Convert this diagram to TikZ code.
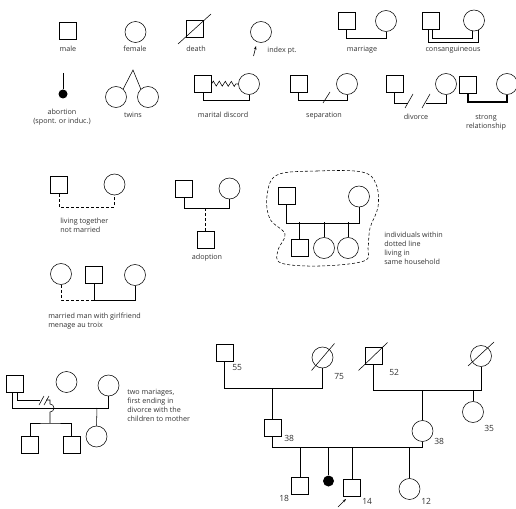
\documentclass[tikz,border=0pt]{standalone}
\usepackage{fontspec}
\setsansfont{Open Sans}
\usetikzlibrary{decorations.pathmorphing,arrows.meta}
\tikzset{
  male/.style={draw, minimum size=17pt, inner sep=0pt},
  female/.style={draw, circle, minimum size=21pt, inner sep=0pt},
  fetus/.style={fill, circle, minimum size=9pt, inner sep=0pt},
  lbl/.style={font=\sffamily\fontsize{7.2}{9}\selectfont, inner sep=0pt, align=center, text=black!80},
  txt/.style={font=\sffamily\fontsize{7.2}{9}\selectfont, inner sep=0pt, align=left, anchor=north west, text=black!80},
  age/.style={font=\sffamily\fontsize{8.5}{9}\selectfont, inner sep=0pt, anchor=west, text=black!80},
  pointer/.style={-{Stealth[length=3.5pt,width=2.5pt]}, line width=0.6pt}
}
\begin{document}
\begin{tikzpicture}[x=1pt, y=-1pt, line width=0.55pt]
\useasboundingbox (0,0) rectangle (516,508);
% Symbole
\node[male] (male) at (68,31) {};
\node[lbl] (lmale) at (68,49) {male};
\node[female] (female) at (135.5,32) {};
\node[lbl] (lfemale) at (135,49) {female};
\node[male] (death) at (195,29) {};
\draw ([shift={(-17,15)}]death.center) -- ([shift={(16,-15)}]death.center);
\node[lbl] (ldeath) at (196,49) {death};
\node[female] (index) at (261,32) {};
\coordinate (ia) at (253.5,56);
\coordinate (ib) at (256,46);
\draw[pointer] (ia) -- (ib);
\node[lbl] (lindex) at (282,51) {index pt.};
% Ehe
\node[male] (mr1) at (346.5,20.5) {};
\node[female] (mr2) at (386,21) {};
\draw (mr1.south) -- ++(0,9) -| (mr2.south);
\node[lbl] (lmr) at (362,50) {marriage};
\node[male] (cs1) at (430.5,21) {};
\node[female] (cs2) at (474,20.5) {};
\draw ([xshift=-2.5pt]cs1.south) -- ++(0,13) -| (cs2.-68);
\draw ([xshift=2pt]cs1.south) -- ++(0,9) -| (cs2.-100);
\node[lbl] (lcs) at (453,50) {consanguineous};
% zweite Reihe
\node[fetus] (ab) at (63,94) {};
\coordinate (abtop) at (63,73);
\draw (abtop) -- (ab);
\node[lbl] (lab) at (62,117) {abortion\\(spont. or induc.)};
\node[female] (tw1) at (116,97) {};
\node[female] (tw2) at (148,97) {};
\coordinate (twtop) at (133,70);
\draw (tw1.48) -- (twtop) -- (tw2.132);
\node[lbl] (ltw) at (133,115) {twins};
\node[male] (md1) at (203,83.5) {};
\node[female] (md2) at (249,84) {};
\draw[decorate, decoration={zigzag, segment length=6pt, amplitude=2.5pt}] (md1.east) -- (md2.west);
\draw (md1.south) -- ++(0,8) -| (md2.south);
\node[lbl] (lmd) at (223,115) {marital discord};
\node[male] (sp1) at (298.5,83.5) {};
\node[female] (sp2) at (347,84) {};
\draw (sp1.south) -- ++(0,8) -| (sp2.south);
\coordinate (spa) at (323,103);
\coordinate (spb) at (330,92);
\draw (spa) -- (spb);
\node[lbl] (lsp) at (324,116) {separation};
\node[male] (dv1) at (394.5,84) {};
\node[female] (dv2) at (446,84) {};
\coordinate (dva) at (408,103);
\coordinate (dvb) at (426,103);
\draw (dv1.south) |- (dva);
\draw (dvb) -| (dv2.south);
\draw (405,108) -- (413,94);
\draw (422,108) -- (430,94);
\node[lbl] (ldv) at (416,117) {divorce};
\node[male] (st1) at (468,84.5) {};
\node[female] (st2) at (507,84) {};
\draw[line width=1.7pt] (st1.south) -- ++(0,9) -| (st2.south);
\node[lbl] (lst) at (486,122) {strong\\relationship};
% Zusammenleben
\node[male] (lt1) at (59,185) {};
\node[female] (lt2) at (114.5,184.5) {};
\draw[dashed, dash pattern=on 3pt off 2pt] (lt1.south) -- ++(0,13) -| (lt2.south);
\node[txt] (llt) at (60,218) {living together\\not married};
% Adoption
\node[male] (ad1) at (184,188.5) {};
\node[female] (ad2) at (229.5,188.5) {};
\node[male] (ad3) at (205.5,239.5) {};
\draw (ad1.south) -- ++(0,11) -| (ad2.south);
\coordinate (adm) at (205.5,208);
\draw[dashed, dash pattern=on 3pt off 2pt] (adm) -- (ad3.north);
\node[lbl] (lad) at (207,258) {adoption};
% Haushalt
\node[male] (hh1) at (286.5,196) {};
\node[female] (hh2) at (359,196.5) {};
\node[male] (hh3) at (299.5,247.5) {};
\node[female] (hh4) at (324,248) {};
\node[female] (hh5) at (348,248) {};
\draw (hh1.south) -- ++(0,18) -| (hh2.south);
\coordinate (hhl) at (286.5,222);
\foreach \k in {hh3,hh4,hh5}
  \draw (hhl -| \k.north) -- (\k.north);
\draw[dashed, dash pattern=on 3pt off 2pt] plot[smooth cycle, tension=0.6] coordinates {
  (277,175) (317,171) (362,172) (376,184) (378,207) (370,228)
  (368,248) (364,261) (320,266) (281,263) (278,250) (285,234) (270,219) (267,196)};
\node[txt] (lhh) at (384,232) {individuals within\\dotted line\\living in\\same household};
% Menage
\node[female] (mg1) at (61,274) {};
\node[male] (mg2) at (94,275) {};
\node[female] (mg3) at (135,275) {};
\coordinate (mgl) at (61,300);
\draw[dashed, dash pattern=on 3pt off 2pt] (mg1.south) |- (mgl -| mg2.south);
\draw (mg2.south) -- ++(0,16.5) -| (mg3.south);
\node[txt] (lmg) at (48,312.5) {married man with girlfriend\\menage au troix};
% zwei Ehen
\node[male] (tm1) at (15,383.5) {};
\node[female] (tm2) at (66.5,382) {};
\node[female] (tm3) at (108.5,385.5) {};
\node[male] (tm4) at (30,444.5) {};
\node[male] (tm5) at (71.5,444.5) {};
\node[female] (tm6) at (96.5,436.5) {};
\coordinate (fa) at (40,400);
\coordinate (fb) at (46,400);
\coordinate (fc) at (50,400);
\draw ([xshift=2.5pt]tm1.south) |- (fa);
\draw (fb) -- (fc) -- (50,404) arc[start angle=-90, end angle=90, radius=4] -- (50,423);
\draw (39,405) -- (44,396);
\draw (44,405) -- (49,396);
\draw ([xshift=-3pt]tm1.south) |- (tm3.south |- 0,408) -- (tm3.south);
\draw (tm4.north) |- (50,423) -| (tm5.north);
\draw (97,408) -- (tm6.north);
\node[txt] (ltm) at (127,388.5) {two mariages,\\first ending in\\divorce with the\\children to mother};
% Genogramm
\node[male] (gf1) at (224.5,353) {};
\node[age] (a55) at (232,368) {55};
\node[female] (gm1) at (322.5,357.5) {};
\draw ([shift={(-11,13)}]gm1.center) -- ([shift={(12,-14)}]gm1.center);
\node[age] (a75) at (334,377) {75};
\draw (gf1.south) -- ++(0,26) -| (gm1.south);
\node[male] (gf2) at (373.5,355.5) {};
\draw ([shift={(-15,15)}]gf2.center) -- ([shift={(14,-13)}]gf2.center);
\node[age] (a52) at (389,372) {52};
\node[female] (gm2) at (481,356) {};
\draw ([shift={(-13,10)}]gm2.center) -- ([shift={(13,-14)}]gm2.center);
\draw (gf2.south) -- ++(0,26) -| (gm2.south);
\node[male] (fa1) at (272.5,428) {};
\node[age] (a38a) at (284,438) {38};
\node[female] (mo1) at (422.5,431) {};
\node[age] (a38b) at (434,441) {38};
\node[female] (au1) at (473,412) {};
\node[age] (a35) at (484,428) {35};
\coordinate (pl1) at (272.5,388);
\coordinate (pl2) at (422.5,390);
\draw (pl1) -- (fa1.north);
\draw (pl2) -- (mo1.north);
\draw (pl2 -| au1.north) -- (au1.north);
\draw (fa1.south) |- (mo1.south |- 0,447) -- (mo1.south);
\node[male] (ch1) at (300,485.5) {};
\node[age] (a18) at (279,498) {18};
\node[fetus, minimum size=11pt] (ch2) at (328.5,481) {};
\node[male] (ch3) at (352,488) {};
\node[age] (a14) at (362,501) {14};
\node[female] (ch4) at (409.5,489) {};
\node[age] (a12) at (421,501) {12};
\coordinate (sl) at (272.5,447);
\foreach \k in {ch1,ch2,ch3,ch4}
  \draw (sl -| \k.north) -- (\k.north);
\coordinate (ic1) at (338,507);
\coordinate (ic2) at (346,499);
\draw[pointer] (ic1) -- (ic2);
\end{tikzpicture}
\end{document}
